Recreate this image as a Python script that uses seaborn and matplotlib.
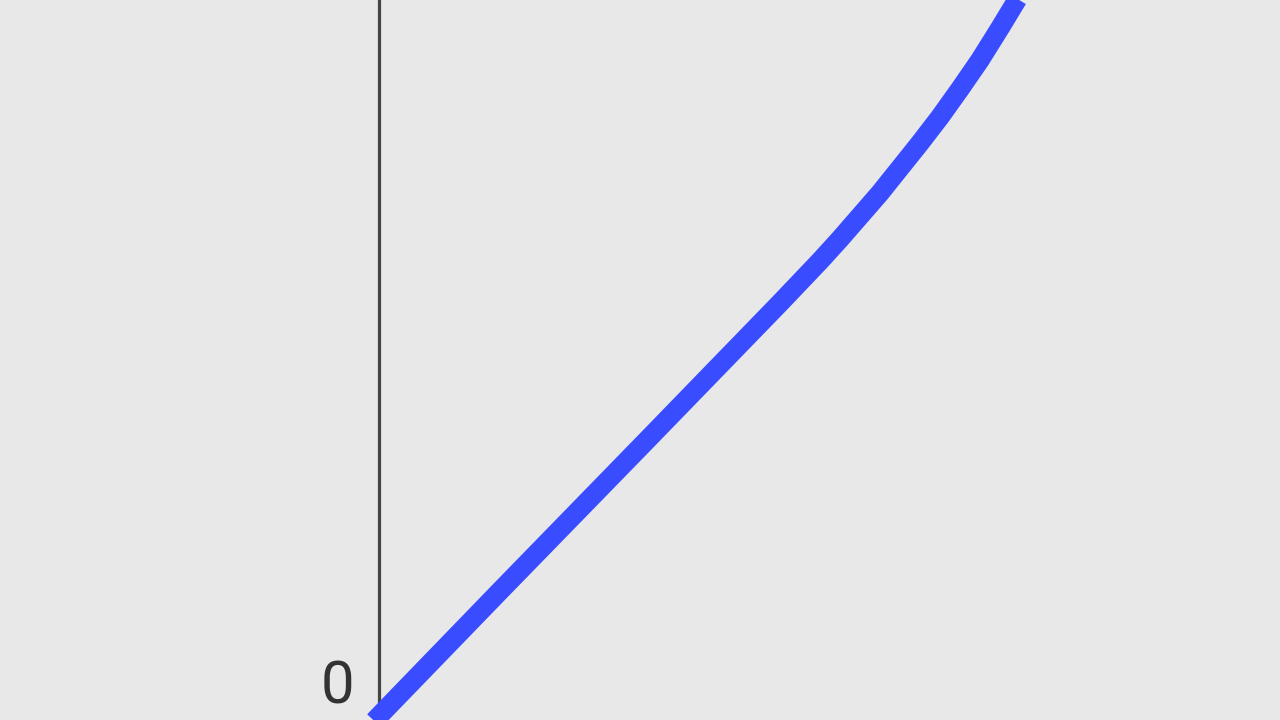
import pandas as pd
import matplotlib.pyplot as plt
import seaborn as sns

# curve (origin where the line meets the vertical axis)
x_vals = [-19, 0, 121, 271, 401, 421, 441, 461, 481, 501, 521, 541,
          561, 581, 601, 621, 641, 661]
y_vals = [-20, 0, 125, 279, 413, 434, 455, 477, 500, 523, 548, 573,
          599, 627, 656, 688, 721, 756]
zero_label = "0"

sns.set_style("white")
plt.rcParams['font.family'] = ['Roboto', 'DejaVu Sans']

bg = '#e8e8e8'
fig = plt.figure(figsize=(12.8, 7.2), dpi=100, facecolor=bg)
ax = fig.add_axes([0, 0, 1, 1])
ax.set_facecolor(bg)

data = pd.DataFrame({'x': x_vals, 'y': y_vals})
sns.lineplot(data=data, x='x', y='y', ax=ax, color='#3a4cff', linewidth=14,
             sort=False, solid_capstyle='butt', solid_joinstyle='round')

ax.axvline(0, color='#444444', linewidth=2.3, zorder=1)
ax.text(-42, 29, zero_label, fontsize=43, color='#333333', ha='center', va='center')

ax.set_xlim(-379, 901)
ax.set_ylim(-4, 716)
ax.set_axis_off()

fig.savefig('out.png', dpi=100, facecolor=bg)
